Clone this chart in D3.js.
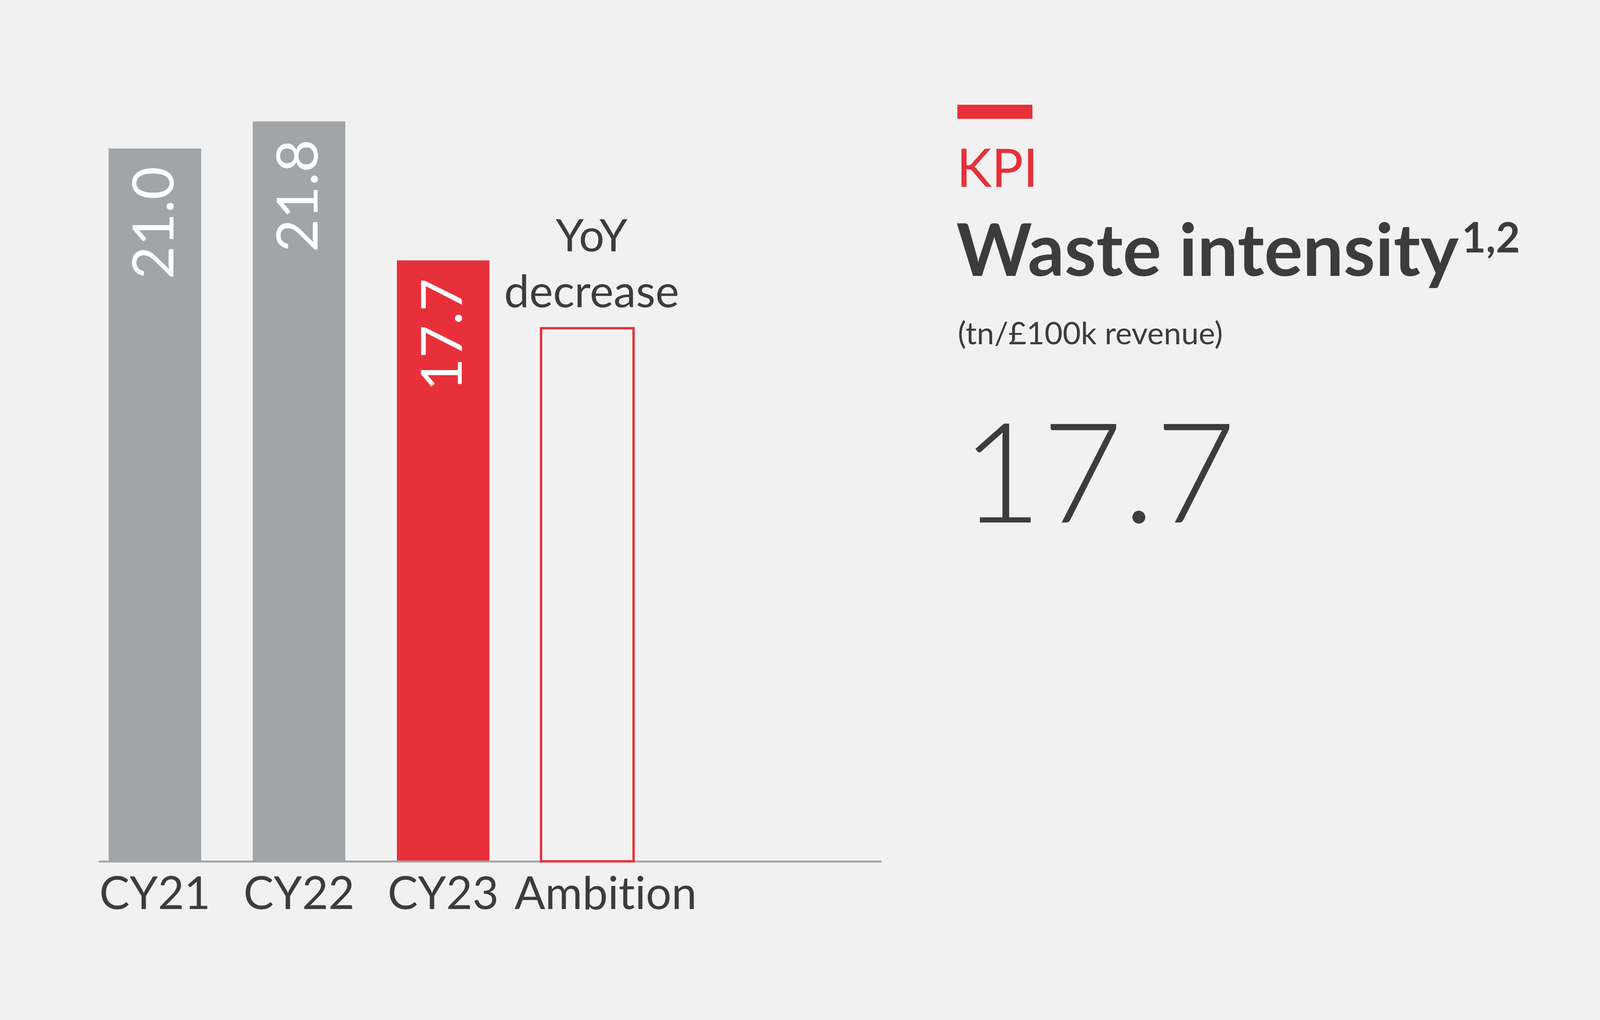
<!DOCTYPE html>
<html>
<head>
<meta charset="utf-8">
<script src="https://cdn.jsdelivr.net/npm/d3@7/dist/d3.min.js"></script>
<style>
  html, body { margin: 0; padding: 0; background: #f1f1f1; }
  svg { display: block; }
  text { font-family: Lato, "Noto Sans", sans-serif; font-variant-ligatures: none; font-feature-settings: "liga" 0; }
</style>
</head>
<body>
<svg id="chart" width="4500" height="2610"></svg>
<script>
// ---- data ----
const categories = ["CY21", "CY22", "CY23", "Ambition"];
const values = [21.0, 21.8, 17.7, 15.7];
const valueLabels = ["21.0", "21.8", "17.7", ""];
const kinds = ["past", "past", "current", "target"];
const targetNote = ["YoY", "decrease"];
const kpiTag = "KPI";
const kpiTitle = "Waste intensity";
const kpiNotes = "1,2";
const kpiUnit = "(tn/£100k revenue)";
const kpiValue = "17.7";

// ---- styles ----
const bg = "#f1f1f1";
const grey = "#a2a5a8";
const red = "#e8303a";
const dark = "#3c3c3c";

const svg = d3.select("#chart");
svg.append("rect").attr("width", 4500).attr("height", 2610).attr("fill", bg);

const baseY = 2202;
const pxPerUnit = 86.76;
const yMax = 25;
const y = d3.scaleLinear().domain([0, yMax]).range([baseY, baseY - pxPerUnit * yMax]);
const x = d3.scaleBand().domain(categories).range([212, 1688]).paddingInner(0.358).paddingOuter(0.179);

const data = categories.map((c, i) => ({ cat: c, v: values[i], label: valueLabels[i], kind: kinds[i] }));

// bars (filled)
svg.append("g").selectAll("rect")
  .data(data.filter(d => d.kind !== "target"))
  .join("rect")
  .attr("x", d => x(d.cat))
  .attr("y", d => y(d.v))
  .attr("width", x.bandwidth())
  .attr("height", d => y(0) - y(d.v))
  .attr("fill", d => d.kind === "current" ? red : grey);

// axis
const axis = d3.axisBottom(x).tickSize(0).tickPadding(0);
const axisG = svg.append("g").attr("transform", `translate(0,${baseY})`).call(axis);
axisG.select(".domain").remove();
axisG.selectAll(".tick text")
  .attr("fill", dark)
  .attr("font-size", 116)
  .attr("font-family", "Lato")
  .style("font-variant-ligatures", "none")
  .attr("dy", null)
  .attr("y", 124)
  .attr("dx", d => d === "Ambition" ? 47 : 0);

// baseline line
svg.append("line")
  .attr("x1", 253).attr("x2", 2257)
  .attr("y1", y(0) + 2.5).attr("y2", y(0) + 2.5)
  .attr("stroke", grey).attr("stroke-width", 5);

// target outline
svg.append("g").selectAll("rect")
  .data(data.filter(d => d.kind === "target"))
  .join("rect")
  .attr("x", d => x(d.cat))
  .attr("y", d => y(d.v))
  .attr("width", x.bandwidth())
  .attr("height", d => y(0) - y(d.v) + 2)
  .attr("fill", "none")
  .attr("stroke", red)
  .attr("stroke-width", 6);

// value labels inside bars (rotated)
svg.append("g").selectAll("text")
  .data(data.filter(d => d.label))
  .join("text")
  .attr("transform", d => `translate(${x(d.cat) + x.bandwidth() / 2 + 47},${y(d.v) + 46}) rotate(-90)`)
  .attr("text-anchor", "end")
  .attr("fill", "#ffffff")
  .attr("font-size", 146)
  .attr("font-weight", 400)
  .text(d => d.label);

// target note
const tgt = data.find(d => d.kind === "target");
const note = svg.append("text")
  .attr("text-anchor", "middle")
  .attr("fill", dark)
  .attr("font-size", 115);
targetNote.forEach((t, i) => {
  note.append("tspan")
    .attr("x", x(tgt.cat) + x.bandwidth() / 2 + 11)
    .attr("y", 643 + i * 143)
    .text(t);
});

// KPI panel
const px = 2451;
svg.append("rect").attr("x", px).attr("y", 268).attr("width", 192).attr("height", 36).attr("fill", red);
svg.append("text").attr("x", px - 2).attr("y", 478).attr("fill", red).attr("font-size", 135).text(kpiTag);
const title = svg.append("text").attr("x", px - 3).attr("y", 706).attr("fill", dark)
  .attr("font-size", 185).attr("font-weight", 700);
title.append("tspan").text(kpiTitle);
title.append("tspan").attr("font-size", 107).attr("dy", -60).attr("dx", 8).text(kpiNotes);
svg.append("text").attr("x", px + 1).attr("y", 881).attr("fill", dark).attr("font-size", 80).text(kpiUnit);
svg.append("text").attr("x", px + 10).attr("y", 1337).attr("fill", dark)
  .attr("font-size", 356).attr("font-weight", 300).text(kpiValue);
</script>
</body>
</html>
